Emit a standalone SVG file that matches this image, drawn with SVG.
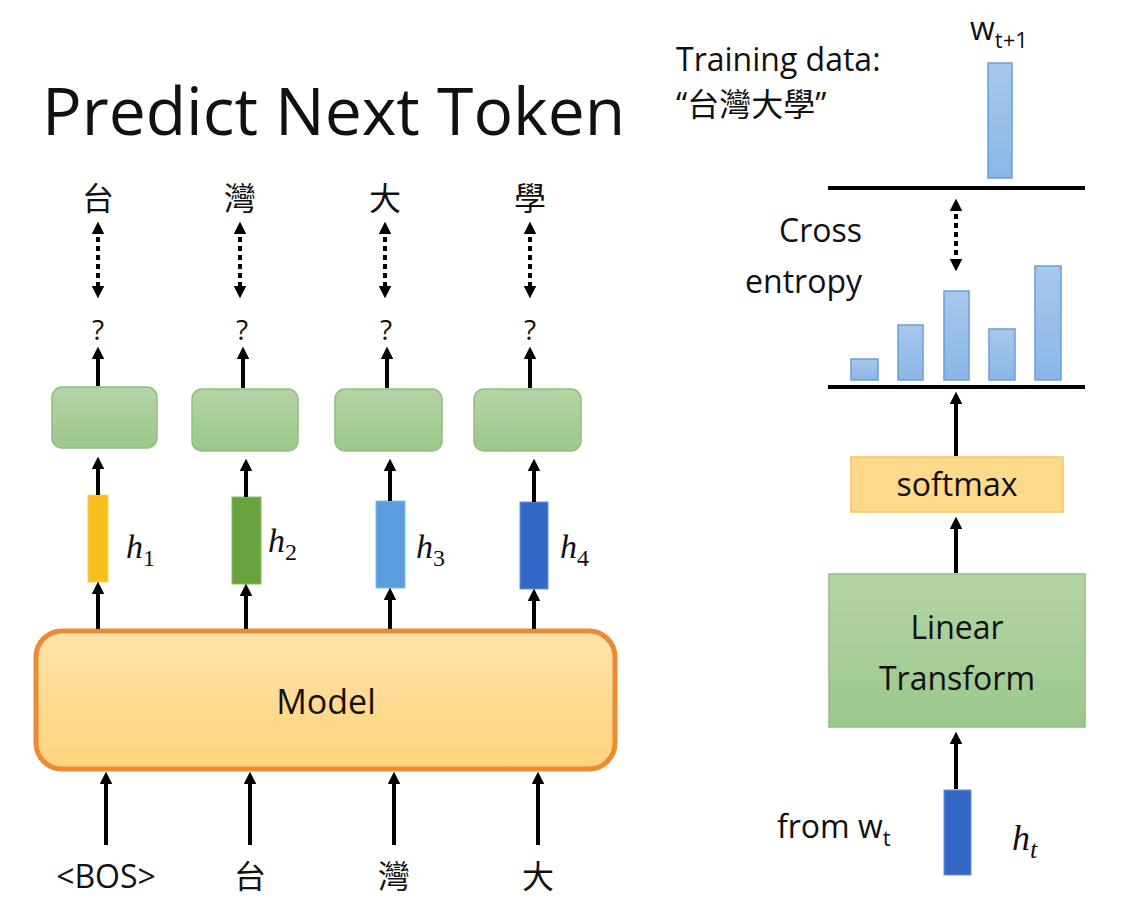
<svg xmlns="http://www.w3.org/2000/svg" width="1132" height="914" viewBox="0 0 1132 914">
<defs>
<marker id="ah" viewBox="0 0 10 10" refX="5" refY="5" markerWidth="3.2" markerHeight="3.2" orient="auto-start-reverse"><path d="M0,0L10,5L0,10z" fill="#000"/></marker>
<linearGradient id="gg" x1="0" y1="0" x2="0" y2="1"><stop offset="0" stop-color="#b3d5a6"/><stop offset="1" stop-color="#9cc78a"/></linearGradient>
<linearGradient id="bb" x1="0" y1="0" x2="0" y2="1"><stop offset="0" stop-color="#a7c8ec"/><stop offset="1" stop-color="#8ab6e6"/></linearGradient>
<linearGradient id="mg" x1="0" y1="0" x2="0" y2="1"><stop offset="0" stop-color="#ffe3a8"/><stop offset="1" stop-color="#fdd37c"/></linearGradient>
</defs>
<style>
.t{font-family:"Open Sans","Noto Sans CJK TC",sans-serif;fill:#111}
.c{font-family:"Noto Sans CJK TC",sans-serif;fill:#111;font-size:32px;text-anchor:middle}
.m{font-family:"Liberation Serif",serif;font-style:italic;fill:#111}
.a{stroke:#000;stroke-width:4;fill:none;marker-end:url(#ah)}
.d{stroke:#000;stroke-width:4;fill:none;stroke-dasharray:5 4;marker-start:url(#ah);marker-end:url(#ah)}
.g{fill:url(#gg);stroke:#8fbf7d;stroke-width:1.5}
.bar{fill:url(#bb);stroke:#6a9fd6;stroke-width:1.5}
</style>
<rect width="1132" height="914" fill="#fff"/>
<text class="t" x="42" y="135" font-size="66">Predict Next Token</text>
<g id="outputs">
<text class="c" x="98" y="210">台</text><text class="c" x="240" y="210">灣</text><text class="c" x="385" y="210">大</text><text class="c" x="530" y="210">學</text>
<text class="t" x="98" y="340" font-size="28" text-anchor="middle">?</text><text class="t" x="242" y="340" font-size="28" text-anchor="middle">?</text><text class="t" x="386" y="340" font-size="28" text-anchor="middle">?</text><text class="t" x="530" y="340" font-size="28" text-anchor="middle">?</text>
</g>
<g id="heads">
<rect class="g" x="52" y="387" width="105" height="61" rx="10"/>
<rect class="g" x="192" y="389" width="106" height="62" rx="10"/>
<rect class="g" x="335" y="389" width="107" height="62" rx="10"/>
<rect class="g" x="474" y="389" width="107" height="62" rx="10"/>
</g>
<g id="hidden">
<rect x="88" y="495" width="20" height="87" fill="#f8be1c" stroke="#f3d26a"/>
<rect x="232" y="497" width="29" height="87" fill="#68a33e" stroke="#8cbf6a"/>
<rect x="376" y="501" width="29" height="87" fill="#5a9ee0" stroke="#84b8ea"/>
<rect x="520" y="502" width="28" height="87" fill="#3468c6" stroke="#6b92d6"/>
<text class="m" x="126" y="558" font-size="34">h<tspan font-size="24" dy="8" font-style="normal">1</tspan></text>
<text class="m" x="268" y="552" font-size="34">h<tspan font-size="24" dy="8" font-style="normal">2</tspan></text>
<text class="m" x="416" y="558" font-size="34">h<tspan font-size="24" dy="8" font-style="normal">3</tspan></text>
<text class="m" x="560" y="558" font-size="34">h<tspan font-size="24" dy="8" font-style="normal">4</tspan></text>
</g>
<g id="model">
<rect x="36" y="631" width="579" height="138" rx="26" fill="url(#mg)" stroke="#ed8b35" stroke-width="5"/>
<text class="t" x="326" y="714" font-size="34" text-anchor="middle">Model</text>
</g>
<g id="inputs">
<text class="t" x="106" y="888" font-size="32" text-anchor="middle">&lt;BOS&gt;</text>
<text class="c" x="250" y="888">台</text><text class="c" x="394" y="888">灣</text><text class="c" x="538" y="888">大</text>
</g>
<g id="right">
<text class="t" x="676" y="71" font-size="32">Training data:</text>
<text class="t" x="676" y="116" font-size="32">“台灣大學”</text>
<text class="t" x="970" y="40" font-size="32">w<tspan font-size="22" dy="8">t+1</tspan></text>
<rect class="bar" x="988" y="63" width="24" height="115"/>
<line x1="828" y1="188" x2="1085" y2="188" stroke="#000" stroke-width="4"/>
<text class="t" x="862" y="242" font-size="32" text-anchor="end">Cross</text>
<text class="t" x="862" y="293" font-size="32" text-anchor="end">entropy</text>
<rect class="bar" x="851" y="359" width="27" height="21"/>
<rect class="bar" x="898" y="325" width="25" height="55"/>
<rect class="bar" x="944" y="291" width="25" height="89"/>
<rect class="bar" x="989" y="329" width="26" height="51"/>
<rect class="bar" x="1035" y="266" width="26" height="114"/>
<line x1="828" y1="387" x2="1085" y2="387" stroke="#000" stroke-width="4"/>
<rect x="851" y="457" width="212" height="55" fill="#fdd98a" stroke="#f5c55a" stroke-width="1.5"/>
<text class="t" x="957" y="496" font-size="32" text-anchor="middle">softmax</text>
<rect x="829" y="574" width="256" height="153" fill="url(#gg)" stroke="#8fbf7d" stroke-width="1.5"/>
<text class="t" x="957" y="639" font-size="32" text-anchor="middle">Linear</text>
<text class="t" x="957" y="690" font-size="32" text-anchor="middle">Transform</text>
<rect x="944" y="790" width="27" height="85" fill="#3468c6" stroke="#6b92d6"/>
<text class="t" x="777" y="838" font-size="32">from w<tspan font-size="22" dy="8">t</tspan></text>
<text class="m" x="1012" y="850" font-size="36">h<tspan font-size="26" dy="8">t</tspan></text>
</g>
<g id="connectors">
<line class="d" x1="98" y1="228" x2="98" y2="292"/><line class="d" x1="240" y1="228" x2="240" y2="292"/><line class="d" x1="385" y1="228" x2="385" y2="292"/><line class="d" x1="530" y1="228" x2="530" y2="292"/>
<line class="a" x1="98" y1="386" x2="98" y2="353"/><line class="a" x1="243" y1="388" x2="243" y2="353"/><line class="a" x1="387" y1="388" x2="387" y2="353"/><line class="a" x1="530" y1="388" x2="530" y2="353"/>
<line class="a" x1="98" y1="495" x2="98" y2="463"/><line class="a" x1="246" y1="497" x2="246" y2="465"/><line class="a" x1="390" y1="501" x2="390" y2="465"/><line class="a" x1="534" y1="502" x2="534" y2="465"/>
<line class="a" x1="98" y1="629" x2="98" y2="588"/><line class="a" x1="246" y1="629" x2="246" y2="590"/><line class="a" x1="390" y1="629" x2="390" y2="594"/><line class="a" x1="534" y1="629" x2="534" y2="595"/>
<line class="a" x1="106" y1="845" x2="106" y2="778"/><line class="a" x1="250" y1="845" x2="250" y2="778"/><line class="a" x1="394" y1="845" x2="394" y2="778"/><line class="a" x1="538" y1="845" x2="538" y2="778"/>
<line class="d" x1="956" y1="205" x2="956" y2="265"/>
<line class="a" x1="956" y1="456" x2="956" y2="398" stroke-width="5"/>
<line class="a" x1="956" y1="573" x2="956" y2="523" stroke-width="5"/>
<line class="a" x1="956" y1="789" x2="956" y2="738" stroke-width="5"/>
</g>
</svg>
